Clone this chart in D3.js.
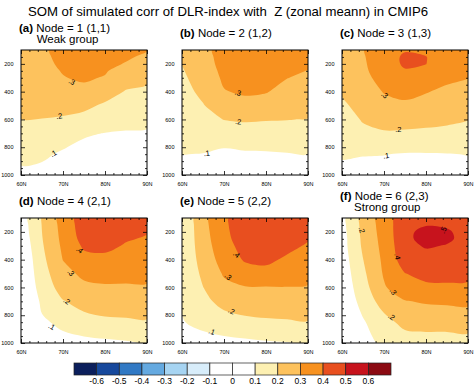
<!DOCTYPE html>
<html>
<head>
<meta charset="utf-8">
<script src="https://cdn.jsdelivr.net/npm/d3@7"></script>
<style>
  body { margin: 0; background: #fff; }
  svg { display: block; font-family: "Liberation Sans", Arial, sans-serif; }
</style>
</head>
<body>
<svg id="chart" width="474" height="386"></svg>
<script>
// grid of the composites
const lats = [60, 65, 70, 75, 80, 85, 90];
const plevs = [100, 150, 200, 250, 300, 400, 500, 600, 700, 850, 1000];

// correlation, one row per latitude, values from 100 hPa down to 1000 hPa
const node1 = [
  [0.28, 0.275, 0.27, 0.265, 0.26, 0.24, 0.22, 0.199, 0.17, 0.124, 0.08],
  [0.29, 0.288, 0.285, 0.278, 0.27, 0.25, 0.225, 0.198, 0.17, 0.118, 0.07],
  [0.32, 0.315, 0.31, 0.304, 0.297, 0.27, 0.23, 0.19, 0.15, 0.086, 0.05],
  [0.34, 0.335, 0.33, 0.32, 0.31, 0.28, 0.215, 0.18, 0.11, 0.07, 0.05],
  [0.34, 0.33, 0.32, 0.308, 0.295, 0.23, 0.19, 0.14, 0.098, 0.07, 0.05],
  [0.33, 0.312, 0.295, 0.262, 0.23, 0.195, 0.16, 0.12, 0.095, 0.07, 0.05],
  [0.305, 0.283, 0.26, 0.238, 0.215, 0.185, 0.16, 0.12, 0.09, 0.068, 0.05]
];
const node2 = [
  [0.21, 0.205, 0.201, 0.193, 0.185, 0.17, 0.155, 0.14, 0.125, 0.101, 0.07],
  [0.27, 0.265, 0.26, 0.25, 0.24, 0.22, 0.195, 0.17, 0.145, 0.098, 0.065],
  [0.34, 0.335, 0.33, 0.323, 0.315, 0.295, 0.25, 0.202, 0.15, 0.08, 0.06],
  [0.36, 0.358, 0.355, 0.348, 0.34, 0.312, 0.27, 0.21, 0.16, 0.088, 0.06],
  [0.36, 0.358, 0.355, 0.348, 0.34, 0.305, 0.26, 0.205, 0.16, 0.09, 0.06],
  [0.34, 0.335, 0.33, 0.315, 0.302, 0.27, 0.24, 0.202, 0.165, 0.095, 0.065],
  [0.325, 0.318, 0.31, 0.298, 0.285, 0.255, 0.225, 0.197, 0.165, 0.099, 0.07]
];
const node3 = [
  [0.25, 0.245, 0.24, 0.232, 0.225, 0.208, 0.185, 0.16, 0.14, 0.11, 0.07],
  [0.295, 0.29, 0.285, 0.28, 0.27, 0.25, 0.23, 0.207, 0.18, 0.104, 0.07],
  [0.37, 0.37, 0.365, 0.355, 0.34, 0.305, 0.27, 0.235, 0.19, 0.102, 0.07],
  [0.395, 0.41, 0.41, 0.395, 0.37, 0.33, 0.28, 0.24, 0.185, 0.095, 0.06],
  [0.385, 0.402, 0.401, 0.385, 0.36, 0.305, 0.265, 0.23, 0.18, 0.095, 0.06],
  [0.355, 0.36, 0.355, 0.345, 0.32, 0.28, 0.25, 0.215, 0.18, 0.097, 0.06],
  [0.34, 0.34, 0.335, 0.32, 0.302, 0.26, 0.235, 0.202, 0.17, 0.102, 0.07]
];
const node4 = [
  [0.05, 0.045, 0.04, 0.03, 0.02, 0.005, 0.0, 0.0, 0.0, 0.0, 0.0],
  [0.205, 0.203, 0.2, 0.196, 0.19, 0.175, 0.16, 0.14, 0.115, 0.09, 0.07],
  [0.34, 0.335, 0.33, 0.325, 0.318, 0.302, 0.27, 0.24, 0.195, 0.115, 0.08],
  [0.45, 0.45, 0.445, 0.435, 0.415, 0.37, 0.32, 0.28, 0.235, 0.165, 0.07],
  [0.48, 0.48, 0.475, 0.46, 0.43, 0.37, 0.33, 0.29, 0.255, 0.18, 0.08],
  [0.47, 0.46, 0.44, 0.41, 0.39, 0.36, 0.325, 0.29, 0.255, 0.185, 0.09],
  [0.44, 0.425, 0.405, 0.39, 0.38, 0.355, 0.325, 0.29, 0.255, 0.19, 0.095]
];
const node5 = [
  [0.108, 0.108, 0.11, 0.112, 0.112, 0.112, 0.11, 0.108, 0.104, 0.097, 0.07],
  [0.27, 0.27, 0.265, 0.26, 0.255, 0.24, 0.22, 0.198, 0.175, 0.115, 0.08],
  [0.38, 0.38, 0.375, 0.37, 0.36, 0.34, 0.31, 0.275, 0.23, 0.16, 0.07],
  [0.47, 0.47, 0.465, 0.455, 0.44, 0.41, 0.355, 0.295, 0.255, 0.175, 0.08],
  [0.48, 0.48, 0.475, 0.465, 0.45, 0.42, 0.37, 0.295, 0.26, 0.185, 0.09],
  [0.46, 0.455, 0.45, 0.44, 0.425, 0.385, 0.34, 0.298, 0.26, 0.19, 0.095],
  [0.44, 0.43, 0.42, 0.405, 0.39, 0.37, 0.34, 0.29, 0.26, 0.195, 0.098]
];
const node6 = [
  [0.07, 0.07, 0.065, 0.06, 0.06, 0.05, 0.04, 0.03, 0.02, 0.01, 0.0],
  [0.23, 0.228, 0.225, 0.22, 0.215, 0.198, 0.18, 0.16, 0.135, 0.09, 0.06],
  [0.345, 0.345, 0.34, 0.335, 0.33, 0.32, 0.31, 0.29, 0.245, 0.165, 0.12],
  [0.46, 0.47, 0.475, 0.475, 0.47, 0.45, 0.398, 0.36, 0.295, 0.23, 0.15],
  [0.47, 0.495, 0.53, 0.535, 0.51, 0.46, 0.43, 0.38, 0.31, 0.235, 0.16],
  [0.47, 0.49, 0.51, 0.515, 0.495, 0.46, 0.43, 0.385, 0.315, 0.235, 0.16],
  [0.46, 0.465, 0.47, 0.47, 0.465, 0.45, 0.42, 0.385, 0.32, 0.24, 0.165]
];

// contour labels: [lat, hPa, text, angle]
const labels1 = [[72.1, 328, ".3", 25], [69.1, 575, ".2", -8], [67.7, 844, ".1", -30]];
const labels2 = [[73.3, 407, ".3", 16], [73.4, 616, ".2", 3], [65.9, 844, ".1", -8]];
const labels3 = [[70.2, 424, ".3", 40], [73.4, 671, ".2", 0], [70.5, 861, ".1", -10]];
const labels4 = [[74, 330, ".4", 40], [71.9, 494, ".3", 50], [70.9, 698, ".2", 35], [67.3, 882, ".1", 30]];
const labels5 = [[73, 362, ".4", 40], [71, 522, ".3", 40], [71.8, 770, ".2", 25], [67.1, 918, ".1", 20]];
const labels6 = [[64.7, 186, ".2", 75], [73.2, 378, ".4", 80], [72.2, 630, ".3", 55], [71.8, 810, ".2", 35], [84.1, 186, ".5", -65]];

const titles = ["Node = 1 (1,1)", "Node = 2 (1,2)", "Node = 3 (1,3)", "Node = 4 (2,1)", "Node = 5 (2,2)", "Node = 6 (2,3)"];
const tags = ["(a)", "(b)", "(c)", "(d)", "(e)", "(f)"];
const subtitles = ["Weak group", "", "", "", "", "Strong group"];

// shading levels and colours
const levels = [-0.6, -0.5, -0.4, -0.3, -0.2, -0.1, 0, 0.1, 0.2, 0.3, 0.4, 0.5, 0.6];
const colors = ["#0b1f5c", "#16489c", "#3179c4", "#64a9e0", "#a6d4f2", "#d8edfa", "#ffffff",
                "#ffffff", "#fdf0b2", "#fdc25d", "#f7911f", "#e84f1f", "#c7131d", "#8b0a12"];

const nodes = [node1, node2, node3, node4, node5, node6];
const nodeLabels = [labels1, labels2, labels3, labels4, labels5, labels6];

const svg = d3.select("#chart");
const W = 126, H = 125;
const colX = [21, 182, 342], rowY = [50, 218];

svg.append("text")
  .attr("x", 228).attr("y", 15.5)
  .attr("text-anchor", "middle")
  .style("font-size", "13.2px")
  .style("white-space", "pre")
  .text("SOM of simulated corr of DLR-index with  Z (zonal meann) in CMIP6");

const x = d3.scaleLinear().domain([60, 90]).range([0, W]);
const y = d3.scaleLinear().domain([100, 1000]).range([0, H]);

// fractional grid index -> coordinate value
function at(arr, f) {
  f = Math.max(0, Math.min(arr.length - 1, f));
  const k = Math.min(Math.floor(f), arr.length - 2);
  return arr[k] + (arr[k + 1] - arr[k]) * (f - k);
}
function toScreen(pt) {
  return [x(at(lats, pt[0] - 0.5)), y(at(plevs, pt[1] - 0.5))];
}

const ringLine = d3.line().curve(d3.curveCatmullRomClosed.alpha(0.5));
function shapePath(mp) {
  let s = "";
  mp.coordinates.forEach(poly => poly.forEach(ring => {
    const pts = [];
    ring.slice(0, -1).map(toScreen).forEach(p => {
      const q = pts[pts.length - 1];
      if (!q || Math.abs(q[0] - p[0]) > 0.01 || Math.abs(q[1] - p[1]) > 0.01) pts.push(p);
    });
    if (pts.length > 2) s += ringLine(pts);
  }));
  return s;
}

const contours = d3.contours()
  .size([lats.length, plevs.length])
  .thresholds(levels);

nodes.forEach((node, k) => {
  const px = colX[k % 3], py = rowY[Math.floor(k / 3)];
  const g = svg.append("g").attr("transform", `translate(${px},${py})`);

  const values = [];
  plevs.forEach((p, j) => lats.forEach((l, i) => values.push(node[i][j])));

  g.append("clipPath").attr("id", "clip" + k)
    .append("rect").attr("width", W).attr("height", H);

  const plot = g.append("g").attr("clip-path", `url(#clip${k})`);
  plot.append("rect").attr("width", W).attr("height", H).attr("fill", colors[0]);
  plot.selectAll("path")
    .data(contours(values))
    .enter().append("path")
    .attr("d", shapePath)
    .attr("fill", (d, i) => colors[i + 1]);

  // contour labels
  g.selectAll("text.clab")
    .data(nodeLabels[k])
    .enter().append("text")
    .attr("class", "clab")
    .attr("transform", d => `translate(${x(d[0])},${y(d[1])}) rotate(${d[3]})`)
    .attr("text-anchor", "middle")
    .attr("dy", "0.35em")
    .style("font-size", "7.5px")
    .text(d => d[2]);

  // axes, NCL style inward ticks
  const xMinor = d3.range(62, 90, 2).filter(v => v % 10 !== 0);
  const yMinor = d3.range(150, 1000, 50).filter(v => v % 200 !== 0);
  const ax = [
    g.append("g").attr("transform", `translate(0,${H})`)
      .call(d3.axisBottom(x).tickValues([60, 70, 80, 90]).tickSize(-4).tickSizeOuter(0).tickPadding(7.5).tickFormat(d => d + "N")),
    g.append("g").attr("transform", `translate(0,${H})`)
      .call(d3.axisBottom(x).tickValues(xMinor).tickSize(-2).tickSizeOuter(0).tickFormat("")),
    g.append("g")
      .call(d3.axisTop(x).tickValues([60, 70, 80, 90]).tickSize(-4).tickSizeOuter(0).tickFormat("")),
    g.append("g")
      .call(d3.axisTop(x).tickValues(xMinor).tickSize(-2).tickSizeOuter(0).tickFormat("")),
    g.append("g")
      .call(d3.axisLeft(y).tickValues([200, 400, 600, 800, 1000]).tickSize(-4).tickSizeOuter(0).tickPadding(7.5).tickFormat(d3.format("d"))),
    g.append("g")
      .call(d3.axisLeft(y).tickValues(yMinor).tickSize(-2).tickSizeOuter(0).tickFormat("")),
    g.append("g").attr("transform", `translate(${W},0)`)
      .call(d3.axisRight(y).tickValues([200, 400, 600, 800, 1000]).tickSize(-4).tickSizeOuter(0).tickFormat("")),
    g.append("g").attr("transform", `translate(${W},0)`)
      .call(d3.axisRight(y).tickValues(yMinor).tickSize(-2).tickSizeOuter(0).tickFormat(""))
  ];
  ax.forEach(a => {
    a.select(".domain").remove();
    a.selectAll("line").attr("stroke", "#000").attr("stroke-width", 0.8);
    a.selectAll("text").style("font-size", "5.5px").attr("font-family", null);
  });

  g.append("rect").attr("width", W).attr("height", H)
    .attr("fill", "none").attr("stroke", "#000").attr("stroke-width", 1);

  // panel title
  const two = subtitles[k] !== "";
  const ty = two ? -18.5 : -13;
  const t = g.append("text").attr("x", -2).attr("y", ty).style("font-size", "11.5px");
  t.append("tspan").style("font-weight", "bold").text(tags[k]);
  t.append("tspan").text(" " + titles[k]);
  if (two) {
    const tw = t.node().getComputedTextLength();
    g.append("text").attr("x", -2 + tw / 2 + 3).attr("y", ty + 11.5)
      .attr("text-anchor", "middle").style("font-size", "11.5px")
      .text(subtitles[k]);
  }
});

// label bar
const bar = d3.scaleBand().domain(d3.range(colors.length)).range([74, 391]);
const lb = svg.append("g");
lb.selectAll("rect")
  .data(colors)
  .enter().append("rect")
  .attr("x", (d, i) => bar(i)).attr("y", 363)
  .attr("width", bar.bandwidth()).attr("height", 12)
  .attr("fill", d => d)
  .attr("stroke", "#222").attr("stroke-width", 0.7);
lb.selectAll("text")
  .data(levels)
  .enter().append("text")
  .attr("x", (d, i) => bar(i + 1))
  .attr("y", 384)
  .attr("text-anchor", "middle")
  .style("font-size", "8.5px")
  .text(d => d === 0 ? "0" : d.toFixed(1));
</script>
</body>
</html>
